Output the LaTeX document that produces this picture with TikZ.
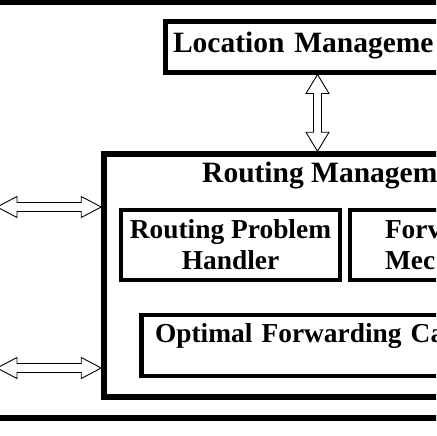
\documentclass[tikz,border=0pt]{standalone}
\usepackage{fontspec}
\setmainfont{Liberation Serif}
\usetikzlibrary{positioning,calc}

\begin{document}
\begin{tikzpicture}[x=1pt, y=-1pt,
    module/.style={draw, fill=white, line width=4.5pt, font=\fontsize{27.4}{31}\selectfont\bfseries},
    headtext/.style={font=\fontsize{29.5}{34}\selectfont\bfseries},
    harrow/.style={draw, fill=white, line width=0.9pt, to path={
        (\tikztostart) -- ++(20,-10.5) -- ++(0,6) -- ($(\tikztotarget)+(-20,-4.5)$) -- ++(0,-6)
        -- (\tikztotarget) -- ++(-20,10.5) -- ++(0,-6) -- ($(\tikztostart)+(20,4.5)$) -- ++(0,6) -- cycle}},
    varrow/.style={draw, fill=white, line width=0.9pt, to path={
        (\tikztostart) -- ++(11.5,19) -- ++(-7.5,0) -- ($(\tikztotarget)+(4,-19)$) -- ++(7.5,0)
        -- (\tikztotarget) -- ++(-11.5,-19) -- ++(7.5,0) -- ($(\tikztostart)+(-4,19)$) -- ++(-7.5,0) -- cycle}}]

    \useasboundingbox (0,0) rectangle (436,436);
    \fill[white] (0,0) rectangle (436,436);
    \clip (0,0) rectangle (436,436);

    % Outer frame
    \draw[line width=5.5pt] (-60,2.5) rectangle (600,418);

    % Location management
    \node[module, headtext, line width=5pt, minimum width=305pt, minimum height=50pt,
          text width=289pt, inner xsep=8pt, align=left, text depth=10pt] (loc) at (317.5,47) {Location Manageme};

    % Routing management and its parts
    \node[module, line width=5.5pt, minimum width=427pt, minimum height=243pt] (rm) at (317.5,275.5) {};
    \node[headtext, anchor=base west, inner sep=0pt] (rmtitle) at (202,182) {Routing Managem};

    \node[module, minimum width=219pt, minimum height=70pt, inner xsep=2pt, align=center] (rph) at (230.5,245) {Routing Problem\\Handler};
    \node[module, minimum width=219pt, minimum height=70pt, text width=149pt, inner xsep=35pt,
          align=left, right=5.5pt of rph] (fwd) {Forv\\Mec};

    \node[module, line width=4.7pt, minimum width=352pt, minimum height=61pt, text width=325pt,
          inner xsep=13.5pt, align=left, text depth=26pt] (ofc) at (317.5,345.5) {Optimal Forwarding Ca};

    % Connectors
    \coordinate (ext1) at (-3,207);
    \coordinate (ext2) at (-3,368);
    \draw[varrow] (loc.south) to (rm.north);
    \draw[harrow] (ext1) to (rm.west |- ext1);
    \draw[harrow] (ext2) to (rm.west |- ext2);

\end{tikzpicture}
\end{document}
